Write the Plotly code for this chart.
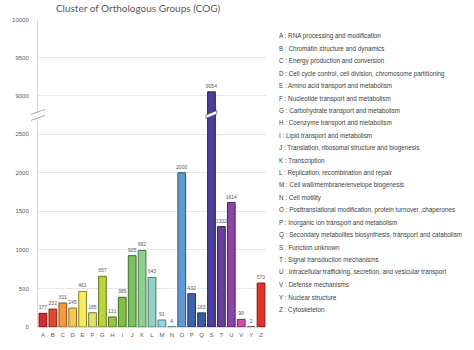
import plotly.graph_objects as go

categories = ["A","B","C","D","E","F","G","H","I","J","K","L","M","N","O","P","Q","S","T","U","V","Y","Z"]
values = [177,232,311,245,461,185,657,131,385,925,992,643,91,4,2000,432,183,9054,1302,1614,99,2,570]
colors = ["#d8292b","#e5462c","#f39a3b","#f8c84f","#f6eb5a","#dde36c","#bad43d","#95c744","#7fc044","#77c25c",
          "#8fcf8d","#8ed3c6","#95d5eb","#a7d6e6","#5b9ad5","#3c62ae","#3a5ba9","#4a3f9c","#683f9d","#8b45a9",
          "#d24ba7","#8c8c8c","#e33329"]
descriptions = [
    "A : RNA processing and modification",
    "B : Chromatin structure and dynamics",
    "C : Energy production and conversion",
    "D : Cell cycle control, cell division, chromosome partitioning",
    "E : Amino acid transport and metabolism",
    "F : Nucleotide transport and metabolism",
    "G : Carbohydrate transport and metabolism",
    "H : Coenzyme transport and metabolism",
    "I : Lipid transport and metabolism",
    "J : Translation, ribosomal structure and biogenesis",
    "K : Transcription",
    "L : Replication, recombination and repair",
    "M : Cell wall/membrane/envelope biogenesis",
    "N : Cell motility",
    "O : Posttranslational modification, protein turnover ,chaperones",
    "P : Inorganic ion transport and metabolism",
    "Q : Secondary metabolites biosynthesis, transport and catabolism",
    "S : Function unknown",
    "T : Signal transduction mechanisms",
    "U : Intracellular trafficking, secretion, and vesicular transport",
    "V : Defense mechanisms",
    "Y : Nuclear structure",
    "Z : Cytoskeleton",
]
lower_ticks = [0, 500, 1000, 1500, 2000, 2500]
upper_ticks = [9000, 9500, 10000]
lower_range = [0, 2750]
upper_range = [8750, 10000]


def darken(hexc, f=0.55):
    h = hexc.lstrip("#")
    r, g, b = (int(h[i:i+2], 16) for i in (0, 2, 4))
    return "#%02x%02x%02x" % (int(r*f), int(g*f), int(b*f))


outlines = [darken(c) for c in colors]

W, H = 474, 350
ml, mr, mt, mb = 29, 208, 20, 13
plot_h = H - mt - mb
split = 219 / plot_h

lower_text = [str(v) if v < lower_range[1] else "" for v in values]
upper_text = [str(v) if v >= upper_range[0] else "" for v in values]

fig = go.Figure()
common = dict(marker=dict(color=colors, line=dict(color=outlines, width=1)),
              textposition="outside", textfont=dict(size=5, color="#595959", family="Liberation Sans"),
              constraintext="none", cliponaxis=False, showlegend=False, hoverinfo="x+y")
fig.add_trace(go.Bar(x=categories, y=values, text=lower_text, xaxis="x", yaxis="y", **common))
fig.add_trace(go.Bar(x=categories, y=values, text=upper_text, xaxis="x", yaxis="y2",
                     **{**common, "cliponaxis": True}))

axis_font = dict(size=6, color="#595959", family="Liberation Sans")
fig.update_layout(
    width=W, height=H,
    margin=dict(l=ml, r=mr, t=mt, b=mb),
    paper_bgcolor="white", plot_bgcolor="white",
    bargap=0.22,
    title=dict(text="Cluster of Orthologous Groups (COG)", x=138 / W, xanchor="center",
               y=1 - 8 / H, yanchor="middle", font=dict(size=10, color="#595959", family="Lato")),
    xaxis=dict(type="category", anchor="y", tickfont=axis_font, showgrid=False,
               showline=True, linecolor="#d9d9d9", linewidth=1, ticks="", ticklabelstandoff=2),
    yaxis=dict(domain=[0, split], range=lower_range, tickvals=lower_ticks,
               ticktext=[str(t) for t in lower_ticks], tickfont=axis_font,
               showgrid=True, gridcolor="#e7e7e7", gridwidth=1, zeroline=False,
               showline=True, linecolor="#d9d9d9", ticks="", ticklabelstandoff=7),
    yaxis2=dict(domain=[split, 1], range=upper_range, tickvals=upper_ticks,
                ticktext=[str(t) for t in upper_ticks], tickfont=axis_font,
                showgrid=True, gridcolor="#e7e7e7", gridwidth=1, zeroline=False,
                showline=True, linecolor="#d9d9d9", ticks="", ticklabelstandoff=7, anchor="x"),
)

# axis break marks on the y axis
shapes = []
shapes.append(dict(type="rect", xref="paper", yref="paper", xsizemode="pixel", ysizemode="pixel",
                   xanchor=0, yanchor=split, x0=-3, x1=3, y0=-3, y1=3,
                   fillcolor="white", line=dict(width=0), layer="above"))
for dy in (3, -3):
    shapes.append(dict(type="line", xref="paper", yref="paper", xsizemode="pixel", ysizemode="pixel",
                       xanchor=0, yanchor=split, x0=-7, x1=7, y0=dy - 2.5, y1=dy + 2.5,
                       line=dict(color="#a6a6a6", width=1), layer="above"))
# break on the tall bar
s_idx = categories.index("S")
shapes.append(dict(type="path", xref="x", yref="paper", xsizemode="pixel", ysizemode="pixel",
                   xanchor=s_idx, yanchor=split,
                   path="M -5.5,-3.5 L 5.5,1 L 5.5,4.5 L -5.5,0 Z",
                   fillcolor="white", line=dict(color="#3a3a3a", width=0.6), layer="above"))
fig.update_layout(shapes=shapes)

# category description list
ann = []
for i, d in enumerate(descriptions):
    ypx = 37 + i * 12.82
    ann.append(dict(text=d, xref="paper", yref="paper", x=(277 - ml) / (W - ml - mr),
                    y=(H - mb - ypx) / plot_h, xanchor="left", yanchor="middle", showarrow=False,
                    font=dict(size=6.3, color="#404040", family="Liberation Sans")))
fig.update_layout(annotations=ann)

fig.write_html("out.html")
